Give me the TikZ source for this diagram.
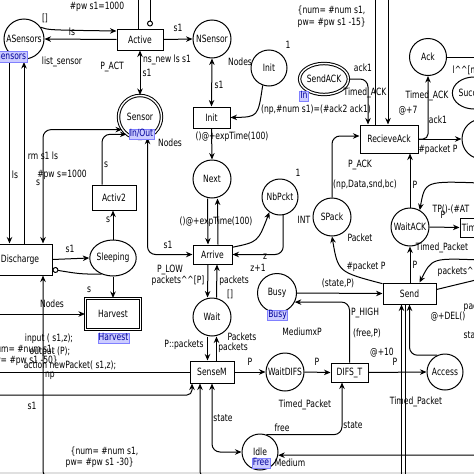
\documentclass[tikz,border=0pt]{standalone}
\usepackage{fontspec}
\setmainfont[FakeStretch=0.76]{DejaVu Sans}
\usepackage{tikz}
\usetikzlibrary{arrows.meta}
\usetikzlibrary{shapes.geometric}
\tikzstyle{place} = [draw, circle, line width=1pt, inner sep=0pt, minimum size=38pt]
\tikzstyle{port} = [place, double, double distance=1.4pt]
\tikzstyle{oval} = [draw, ellipse, line width=1pt, inner sep=0pt]
\tikzstyle{trans} = [draw, rectangle, line width=1pt, inner sep=0pt, minimum width=40pt, minimum height=21pt]
\tikzstyle{tag} = [fill=blue!20, draw=blue!50, line width=0.4pt, text=blue!60!black, inner sep=0.8pt, text height=7.2pt, text depth=1.8pt]
\tikzstyle{flow} = [-{Stealth[length=6.5pt,width=5.5pt]}, line width=1pt]
\tikzstyle{biflow} = [{Stealth[length=6.5pt,width=5.5pt]}-{Stealth[length=6.5pt,width=5.5pt]}, line width=1pt]
\tikzstyle{inh} = [-{Circle[open,length=6pt,width=6pt]}, line width=1pt]
\tikzstyle{lbl} = [inner sep=0.5pt]
\begin{document}
\begin{tikzpicture}[x=1pt,y=-1pt,font=\fontsize{10}{11}\selectfont]
\useasboundingbox (0,0) rectangle (474,474);
\fill[white] (0,0) rectangle (474,474);
\fill[black!12] (0,472) rectangle (474,474);

% places
\node[place, minimum size=40pt](ASensors) at (24,39) {ASensors};
\node[place](NSensor) at (212,39) {NSensor};
\node[port, minimum size=43pt](Sensor) at (140,117) {Sensor};
\node[place, minimum size=36pt](InitP) at (269,68) {Init};
\node[oval, double, double distance=1.4pt, minimum width=46pt, minimum height=31pt](SendACK) at (324,79) {SendACK};
\node[place, minimum size=37pt](Ack) at (428,57) {Ack};
\node[oval, minimum width=42pt, minimum height=32pt](Success) at (474,93) {Success};
\node[place, minimum size=40pt](RightP) at (482,139) {};
\node[place](Next) at (212,179) {Next};
\node[place, minimum size=36pt](NbPckt) at (280,197) {NbPckt};
\node[place](SPack) at (332,217) {SPack};
\node[place](WaitACK) at (410,227) {WaitACK};
\node[oval, minimum width=46pt, minimum height=36pt](Sleeping) at (113,258) {Sleeping};
\node[place, minimum size=39pt](Busy) at (277,293) {Busy};
\node[place](Wait) at (212,317) {Wait};
\node[place](WaitDIFS) at (285,372) {WaitDIFS};
\node[place, minimum size=36pt](Access) at (445,372) {Access};
\node[place, minimum size=36pt](Idle) at (260,452) {Idle};

% transitions
\node[trans, minimum width=46pt](Active) at (140,39.5) {Active};
\node[trans, minimum width=37pt](InitT) at (211.5,117.5) {Init};
\node[trans, minimum width=58pt, minimum height=28pt](RecieveAck) at (389,139) {RecieveAck};
\node[trans, minimum width=44pt, minimum height=25pt](Activ2) at (114,197.5) {Activ2};
\node[trans, minimum width=39pt, minimum height=19pt](Arrive) at (212.5,254.5) {Arrive};
\node[trans, minimum width=64pt, minimum height=31pt](Discharge) at (20,259.5) {Discharge};
\node[trans, minimum width=53pt](Send) at (409.5,293.5) {Send};
\node[trans, minimum width=55pt, minimum height=31pt, double, double distance=1.8pt](Harvest) at (113,314) {Harvest};
\node[trans, minimum width=44pt, minimum height=22pt](SenseM) at (212,372) {SenseM};
\node[trans, minimum width=37pt, minimum height=19pt](DIFST) at (349.5,372.5) {DIFS\_T};
\node[trans, minimum width=35pt, minimum height=19pt](Timeout) at (477.5,227.5) {Timeout};

% free ends
\coordinate (ActTop) at (138,-5);
\coordinate (InhTop) at (150,-5);
\coordinate (RATop1) at (375,-5);
\coordinate (RATop2) at (388,-5);
\coordinate (AckOut) at (480,57);
\coordinate (RetryIn) at (480,183);
\coordinate (SendOut) at (480,279);
\coordinate (SendBack) at (480,260);
\coordinate (MedIn) at (480,455);
\coordinate (SendIn1) at (401.5,480);
\coordinate (SendIn2) at (405.5,480);
\coordinate (HarvIn) at (-5,314);
\coordinate (SenseIn1) at (-5,372);
\coordinate (SenseIn2) at (-5,395);
\coordinate (SenseIn3) at (212,477);
\coordinate (NodesIn) at (55,477);

% arcs
\draw[line width=1pt] (ActTop) -- (ActTop |- Active.north);
\draw[inh] (InhTop) -- ([xshift=10pt,yshift=2pt]Active.north);
\draw[flow] (ASensors.35) .. controls (48,30) .. ([yshift=8.5pt]Active.west);
\draw[flow] (Active.west) -- (ASensors.east);
\draw[flow] (ASensors.south west) -- (ASensors.south west |- Discharge.north);
\draw[flow] (ASensors.south |- Discharge.north) -- (ASensors.south |- 0,62);
\draw[biflow, rounded corners=8pt] ([xshift=23pt]Discharge.north) |- (Sensor.215);
\draw[flow, rounded corners=8pt] ([xshift=-12pt]Activ2.north) |- (Sensor.232);
\draw[biflow] (Active.south) -- (Sensor.north);
\draw[flow] (Active.east) -- (NSensor.west);
\draw[biflow] (NSensor.south) -- (InitT.north);
\draw[flow] (InitP.250) .. controls (258,117) .. (InitT.east);
\draw[flow] (InitT.south) -- (Next.north);
\draw[flow] ([xshift=-4.5pt]Next.south) -- ([xshift=-4.5pt]Arrive.north);
\draw[flow] ([xshift=5.5pt]Arrive.north) -- ([xshift=5.5pt]Next.south);
\draw[biflow, rounded corners=8pt] (Sensor.290) |- (Arrive.west);
\draw[flow] (Arrive.20) .. controls (258,242) .. (NbPckt.235);
\draw[flow, rounded corners=8pt] (NbPckt.280) |- (Arrive.east);
\draw[flow] ([xshift=-4.5pt]Arrive.south) -- ([xshift=-4.5pt]Wait.north);
\draw[flow] ([xshift=4.5pt]Wait.north) -- ([xshift=4.5pt]Arrive.south);
\draw[flow] ([xshift=-4.5pt]Wait.south) -- ([xshift=-4.5pt]SenseM.north);
\draw[flow] ([xshift=4.5pt]SenseM.north) -- ([xshift=4.5pt]Wait.south);
\draw[flow] (SenseM.east) -- (WaitDIFS.west);
\draw[flow] (WaitDIFS.east) -- (DIFST.west);
\draw[flow] (DIFST.east) -- (Access.west);
\draw[biflow, rounded corners=8pt] (SenseM.south) |- (Idle.west);
\draw[flow, rounded corners=8pt] (Idle.70) -| ([xshift=-7.5pt]DIFST.south);
\draw[flow] (MedIn) -- (Idle.-10);
\draw[flow, rounded corners=8pt] (Access.115) -| (Send.south);
\draw[flow] (SendIn1) -- (SendIn1 |- Send.south);
\draw[line width=1pt] (SendIn2) -- (SendIn2 |- Send.south);
\draw[flow] (Send.north -| WaitACK.south) -- (WaitACK.south);
\draw[flow] (WaitACK.north) -- (WaitACK.north |- RecieveAck.south);
\draw[flow] (WaitACK.east) -- (Timeout.west);
\draw[flow] (RetryIn) .. controls (425,181) .. (WaitACK.60);
\draw[flow] (Send.160) .. controls (338,272) .. (SPack.south);
\draw[flow, rounded corners=8pt] (SPack.north) |- ([yshift=3pt]RecieveAck.west);
\draw[flow, rounded corners=8pt] (SendACK.east) -| ([xshift=-21pt]RecieveAck.north);
\draw[line width=1pt] (RATop1) -- (RATop1 |- RecieveAck.north);
\draw[flow] (RATop2) -- (RATop2 |- RecieveAck.north);
\draw[flow, rounded corners=5pt] (RecieveAck.east) -| (Ack.south);
\draw[flow] (RecieveAck.east) -- (RightP.west);
\draw[line width=1pt] (Ack.east) -- (AckOut);
\draw[line width=1pt] ([yshift=4pt]Send.east) -- (SendOut);
\draw[flow] (SendBack) .. controls (432,258) .. ([xshift=10pt]Send.north);
\draw[flow] (Busy.east) -- (Send.west);
\draw[flow, rounded corners=8pt] (DIFST.north) |- (Busy.-27);
\draw[flow] (Discharge.east) -- (Sleeping.west);
\draw[inh] (Sleeping.235) .. controls (80,274) .. ([yshift=-10pt]Discharge.east);
\draw[flow] (Sleeping.north) -- (Sleeping.north |- Activ2.south);
\draw[flow] (Sleeping.south) -- (Sleeping.south |- Harvest.north);
\draw[flow] (HarvIn) -- (Harvest.west);
\draw[flow, rounded corners=6pt] (NodesIn) -| ([xshift=23pt]Discharge.south);
\draw[line width=1pt] (SenseIn1) -- (SenseM.west);
\draw[flow, rounded corners=5pt] (SenseIn2) -| ([xshift=-20pt]SenseM.south);
\draw[flow, rounded corners=5pt] (SenseIn3) -| ([xshift=-12pt]SenseM.south);

% tags
\node[tag, anchor=east](ASensorsTag) at (27,56.5) {Sensors};
\node[tag](SensorTag) at (141.5,134) {In/Out};
\node[tag](SendACKTag) at (304,96) {In};
\node[tag](BusyTag) at (277.5,315) {Busy};
\node[tag](HarvestTag) at (113.5,338) {Harvest};
\node[tag](IdleTag) at (261,463) {Free};

% inscriptions
\node[lbl](L1) at (97,7) {\#pw s1=1000};
\node[lbl](L2) at (45,18) {[]};
\node[lbl](L3) at (72,32) {ls};
\node[lbl](L4) at (62,62) {list\_sensor};
\node[lbl](L5) at (112,67) {P\_ACT};
\node[lbl](L6) at (147,73) {s1};
\node[lbl](L7) at (167,60) {ns\_new ls s1};
\node[lbl](L8) at (178,28) {s1};
\node[lbl](L9) at (219,85) {s1};
\node[lbl](L10) at (288,45) {1};
\node[lbl](L11) at (240,62) {Nodes};
\node[lbl](L12) at (232,137) {()@+expTime(100)};
\node[lbl](L13) at (170,143) {Nodes};
\node[lbl, anchor=west](L14) at (297,11) {\{num= \#num s1,};
\node[lbl, anchor=west](L15) at (297,23) {pw= \#pw s1 -15\}};
\node[lbl](L16) at (363,68) {ack1};
\node[lbl](L17) at (365,93) {Timed\_ACK};
\node[lbl](L18) at (316,110) {(np,\#num s1)=(\#ack2 ack1)};
\node[lbl](L19) at (408,111) {@+7};
\node[lbl](L20) at (427,96) {Timed\_ACK};
\node[lbl](L21) at (438,120) {ack1};
\node[lbl, anchor=west](L22) at (452,70) {l\^{}\^{}[ms]};
\node[lbl](L23) at (438,150) {\#packet P};
\node[lbl](L24) at (360,165) {P\_ACK};
\node[lbl](L25) at (365,185) {(np,Data,snd,bc)};
\node[lbl](L26) at (415,185) {P};
\node[lbl, anchor=west](L27) at (432,209) {TP()-(\#AT};
\node[lbl](L28) at (443,215) {P};
\node[lbl](L29) at (442,248) {Timed\_Packet};
\node[lbl](L30) at (304,220) {INT};
\node[lbl](L31) at (298,173) {1};
\node[lbl](L32) at (360,238) {Packet};
\node[lbl](L33) at (415,265) {P};
\node[lbl](L34) at (366,267) {\#packet P};
\node[lbl, anchor=west](L35) at (437,272) {packets\^{}\^{}[P]};
\node[lbl](L36) at (338,283) {(state,P)};
\node[lbl](L37) at (265,257) {z};
\node[lbl](L38) at (258,268) {z+1};
\node[lbl](L39) at (216,222) {()@+expTime(100)};
\node[lbl](L40) at (168,245) {s1};
\node[lbl](L41) at (170,270) {P\_LOW};
\node[lbl](L42) at (178,281) {packets\^{}\^{}[P]};
\node[lbl](L43) at (234,281) {packets};
\node[lbl](L44) at (230,294) {[]};
\node[lbl](L45) at (302,332) {MediumxP};
\node[lbl](L46) at (365,313) {P\_HIGH};
\node[lbl](L47) at (367,333) {(free,P)};
\node[lbl](L48) at (448,317) {@+DEL()};
\node[lbl, anchor=west](L49) at (463,307) {packets};
\node[lbl, anchor=west](L50) at (463,335) {state};
\node[lbl](L51) at (184,345) {P::packets};
\node[lbl](L52) at (242,337) {Packets};
\node[lbl](L53) at (233,348) {packets};
\node[lbl](L54) at (250,362) {P};
\node[lbl](L55) at (317,362) {P};
\node[lbl](L56) at (382,353) {@+10};
\node[lbl](L57) at (395,362) {P};
\node[lbl](L58) at (305,405) {Timed\_Packet};
\node[lbl](L59) at (416,402) {Timed\_Packet};
\node[lbl](L60) at (223,418) {state};
\node[lbl](L61) at (282,428) {free};
\node[lbl](L62) at (353,425) {state};
\node[lbl](L63) at (290,463) {Medium};
\node[lbl](L64) at (15,175) {ls};
\node[lbl](L65) at (43,156) {rm s1 ls};
\node[lbl](L66) at (62,175) {\#pw s=1000};
\node[lbl](L67) at (38,183) {s};
\node[lbl](L68) at (106,165) {s};
\node[lbl](L69) at (108,220) {s};
\node[lbl](L70) at (70,249) {s1};
\node[lbl](L71) at (89,290) {s};
\node[lbl](L72) at (52,304) {Nodes};
\node[lbl](L73) at (49,339) {input ( s1,z);};
\node[lbl](L74) at (50,352) {output (P);};
\node[lbl](L75) at (70,365) {action newPacket( s1,z);};
\node[lbl](L76) at (50,376) {np};
\node[lbl, anchor=west](L77) at (-14,350) {\{num= \#num s1,};
\node[lbl, anchor=west](L78) at (-11,361) {pw= \#pw s1 -50\}};
\node[lbl](L79) at (32,406) {s1};
\node[lbl, anchor=west](L80) at (70,452) {\{num= \#num s1,};
\node[lbl, anchor=west](L81) at (65,463) {pw= \#pw s1 -30\}};
\end{tikzpicture}
\end{document}
